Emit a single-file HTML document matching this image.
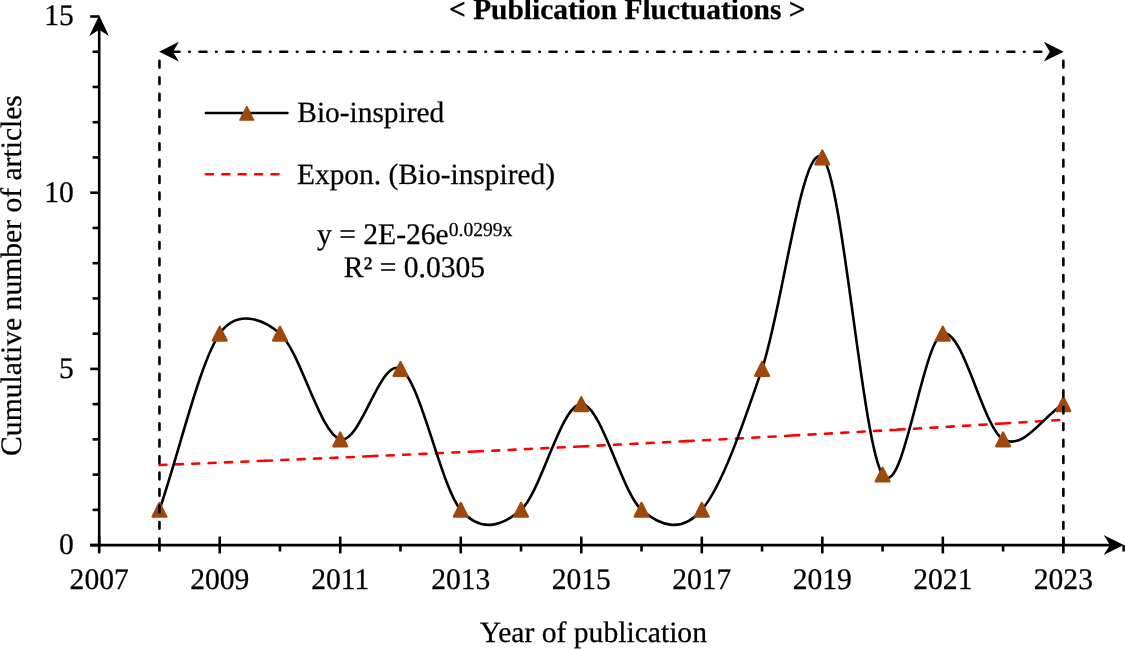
<!DOCTYPE html>
<html><head><meta charset="utf-8"><title>Publication Fluctuations</title>
<style>
html,body{margin:0;padding:0;background:#fff;}
body{width:1125px;height:649px;overflow:hidden;}
svg{display:block;font-family:"Liberation Serif","Times New Roman",serif;font-size:29.6px;fill:#000;text-rendering:geometricPrecision;}
text{stroke:#000;stroke-width:0.25px;}
.ax path{stroke:#000;stroke-width:2.6;fill:none;}
</style></head><body>
<svg width="1125" height="649" viewBox="0 0 1125 649">
<rect width="1125" height="649" fill="#fff"/>
<g class="ax">
<path d="M99.2 546.4 V28"/>
<path d="M90.2 545.1 H1112"/>
<path d="M90.20 545.10 H99.20"/><path d="M92.60 509.86 H99.20"/><path d="M92.60 474.62 H99.20"/><path d="M92.60 439.38 H99.20"/><path d="M92.60 404.14 H99.20"/><path d="M90.20 368.90 H99.20"/><path d="M92.60 333.66 H99.20"/><path d="M92.60 298.42 H99.20"/><path d="M92.60 263.18 H99.20"/><path d="M92.60 227.94 H99.20"/><path d="M90.20 192.70 H99.20"/><path d="M92.60 157.46 H99.20"/><path d="M92.60 122.22 H99.20"/><path d="M92.60 86.98 H99.20"/><path d="M92.60 51.74 H99.20"/><path d="M90.20 16.50 H99.20"/><path d="M99.20 536.60 V553.40"/><path d="M159.46 545.10 V551.50"/><path d="M219.72 536.60 V553.40"/><path d="M279.98 545.10 V551.50"/><path d="M340.24 536.60 V553.40"/><path d="M400.50 545.10 V551.50"/><path d="M460.76 536.60 V553.40"/><path d="M521.02 545.10 V551.50"/><path d="M581.28 536.60 V553.40"/><path d="M641.54 545.10 V551.50"/><path d="M701.80 536.60 V553.40"/><path d="M762.06 545.10 V551.50"/><path d="M822.32 536.60 V553.40"/><path d="M882.58 545.10 V551.50"/><path d="M942.84 536.60 V553.40"/><path d="M1003.10 545.10 V551.50"/><path d="M1063.36 536.60 V553.40"/><path d="M1123.62 545.10 V551.50"/>
</g>
<path d="M99.2 15.2 L108.9 35.9 L99.2 29.8 L89.3 35.9 Z" fill="#000"/>
<path d="M1123.8 545.1 L1103.6 555.1 L1110 545.1 L1103.6 535.1 Z" fill="#000"/>
<path d="M159.46 465.06 L185.82 464.00 L212.19 462.93 L238.55 461.85 L264.92 460.76M264.92 460.76 L291.28 459.65 L317.64 458.52 L344.01 457.38 L370.37 456.23M370.37 456.23 L396.73 455.06 L423.10 453.88 L449.46 452.68 L475.82 451.46M475.82 451.46 L502.19 450.23 L528.55 448.98 L554.92 447.71 L581.28 446.43M581.28 446.43 L607.64 445.13 L634.01 443.82 L660.37 442.48 L686.74 441.13M686.74 441.13 L713.10 439.77 L739.46 438.38 L765.83 436.97 L792.19 435.55M792.19 435.55 L818.55 434.11 L844.92 432.65 L871.28 431.17 L897.64 429.67M897.64 429.67 L924.01 428.15 L950.37 426.61 L976.74 425.05 L1003.10 423.47M1003.10 423.47 L1018.16 422.56 L1033.23 421.64 L1048.29 420.71 L1063.36 419.78" fill="none" stroke="#ff0000" stroke-width="2.6" stroke-dasharray="7 9.4" stroke-linecap="round"/>
<path d="M159.46 509.81 C179.55 451.08 199.63 362.98 219.72 333.61 C236.73 308.74 262.97 318.69 279.98 333.61 C300.07 351.23 320.15 433.46 340.24 439.33 C360.33 445.20 380.41 357.10 400.50 368.85 C420.59 380.60 440.67 486.32 460.76 509.81 C480.34 532.71 501.44 526.99 521.02 509.81 C541.11 492.19 561.19 404.09 581.28 404.09 C601.37 404.09 621.45 492.19 641.54 509.81 C661.12 526.99 682.22 532.71 701.80 509.81 C721.89 486.32 741.97 427.58 762.06 368.85 C782.15 310.12 802.23 139.79 822.32 157.41 C842.41 175.03 862.49 445.20 882.58 474.57 C902.67 503.94 922.75 339.48 942.84 333.61 C962.93 327.74 983.01 427.58 1003.10 439.33 C1023.19 451.08 1043.27 415.84 1063.36 404.09" fill="none" stroke="#000" stroke-width="2.6" stroke-linejoin="round"/>
<g fill="#9E480E" stroke="#9E480E" stroke-width="2.2" stroke-linejoin="round"><path d="M159.46 502.86 l6.95 13.9 h-13.9 z"/><path d="M219.72 326.66 l6.95 13.9 h-13.9 z"/><path d="M279.98 326.66 l6.95 13.9 h-13.9 z"/><path d="M340.24 432.38 l6.95 13.9 h-13.9 z"/><path d="M400.50 361.90 l6.95 13.9 h-13.9 z"/><path d="M460.76 502.86 l6.95 13.9 h-13.9 z"/><path d="M521.02 502.86 l6.95 13.9 h-13.9 z"/><path d="M581.28 397.14 l6.95 13.9 h-13.9 z"/><path d="M641.54 502.86 l6.95 13.9 h-13.9 z"/><path d="M701.80 502.86 l6.95 13.9 h-13.9 z"/><path d="M762.06 361.90 l6.95 13.9 h-13.9 z"/><path d="M822.32 150.46 l6.95 13.9 h-13.9 z"/><path d="M882.58 467.62 l6.95 13.9 h-13.9 z"/><path d="M942.84 326.66 l6.95 13.9 h-13.9 z"/><path d="M1003.10 432.38 l6.95 13.9 h-13.9 z"/><path d="M1063.36 397.14 l6.95 13.9 h-13.9 z"/></g>
<path d="M159.46 60.9 V550.1" stroke="#000" stroke-width="2.6" fill="none" stroke-dasharray="6.7 9.77" stroke-linecap="round"/>
<path d="M1063.36 60.9 V550.1" stroke="#000" stroke-width="2.6" fill="none" stroke-dasharray="6.7 9.77" stroke-linecap="round"/>
<path d="M172.5 51.7 H1050" stroke="#000" stroke-width="2.6" fill="none" stroke-dasharray="7 9.665 0.6 9.665" stroke-linecap="round"/>
<path d="M159.1 51.7 L178.9 41.8 L173 51.7 L178.9 61.6 Z" fill="#000"/>
<path d="M1063.7 51.7 L1043.8 41.8 L1049.8 51.7 L1043.8 61.6 Z" fill="#000"/>
<g><text transform="translate(99.20 588.8) scale(1 1.012)" text-anchor="middle">2007</text><text transform="translate(219.72 588.8) scale(1 1.012)" text-anchor="middle">2009</text><text transform="translate(340.24 588.8) scale(1 1.012)" text-anchor="middle">2011</text><text transform="translate(460.76 588.8) scale(1 1.012)" text-anchor="middle">2013</text><text transform="translate(581.28 588.8) scale(1 1.012)" text-anchor="middle">2015</text><text transform="translate(701.80 588.8) scale(1 1.012)" text-anchor="middle">2017</text><text transform="translate(822.32 588.8) scale(1 1.012)" text-anchor="middle">2019</text><text transform="translate(942.84 588.8) scale(1 1.012)" text-anchor="middle">2021</text><text transform="translate(1063.36 588.8) scale(1 1.012)" text-anchor="middle">2023</text></g>
<g><text transform="translate(73.9 554.00) scale(1 1.012)" text-anchor="end">0</text><text transform="translate(73.9 377.80) scale(1 1.012)" text-anchor="end">5</text><text transform="translate(73.9 201.60) scale(1 1.012)" text-anchor="end">10</text><text transform="translate(73.9 25.40) scale(1 1.012)" text-anchor="end">15</text></g>
<text x="627.3" y="18.5" text-anchor="middle" font-weight="bold" font-size="29.45">&lt; Publication Fluctuations &gt;</text>
<text x="593.4" y="642.3" text-anchor="middle">Year of publication</text>
<text transform="translate(21.2 275.5) rotate(-90)" text-anchor="middle">Cumulative number of articles</text>
<path d="M205.9 113 H287.4" stroke="#000" stroke-width="2.6" stroke-linecap="round"/>
<path d="M246.8 106.6 l6.85 13.4 h-13.7 z" fill="#9E480E" stroke="#9E480E" stroke-width="1.6" stroke-linejoin="round"/>
<text x="297.3" y="122.3" font-size="29.4">Bio-inspired</text>
<path d="M205.9 174.3 H278.5" stroke="#ff0000" stroke-width="2.6" stroke-dasharray="7 9.4" stroke-linecap="round"/>
<text x="297" y="183.7" font-size="29.4">Expon. (Bio-inspired)</text>
<text transform="translate(414.7 243.9) scale(1 1.012)" text-anchor="middle">y = 2E-26e<tspan dy="-7.7" font-size="19.6">0.0299x</tspan></text>
<text transform="translate(414.4 277.4) scale(1 1.012)" text-anchor="middle">R² = 0.0305</text>
</svg>
</body></html>
